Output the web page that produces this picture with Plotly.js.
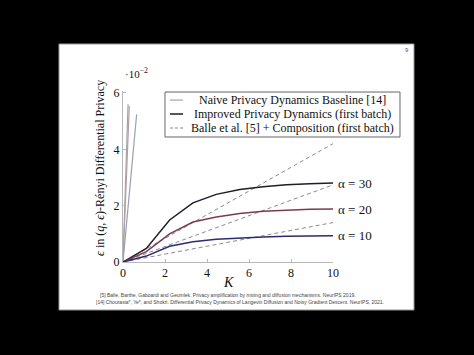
<!DOCTYPE html>
<html>
<head>
<meta charset="utf-8">
<script src="https://cdn.plot.ly/plotly-3.0.1.min.js"></script>
<style>
html,body{margin:0;padding:0;background:#000;}
#chart{width:474px;height:355px;}
</style>
</head>
<body>
<div id="chart"></div>
<script>
// K values (number of iterations)
var K = [0, 1.11, 2.22, 3.33, 4.44, 5.56, 6.67, 7.78, 8.89, 10];
// Improved privacy dynamics (first batch), values in units of 1e-2
var improved30 = [0, 0.48, 1.49, 2.10, 2.40, 2.57, 2.67, 2.74, 2.78, 2.80];
var improved20 = [0, 0.37, 1.00, 1.42, 1.60, 1.72, 1.80, 1.84, 1.87, 1.88];
var improved10 = [0, 0.21, 0.56, 0.72, 0.81, 0.86, 0.89, 0.91, 0.92, 0.93];
// Balle et al. + composition (straight lines), endpoints
var balleK = [0, 10];
var balle30 = [0, 4.20];
var balle20 = [0, 2.74];
var balle10 = [0, 1.40];
// Naive privacy dynamics baseline [14]
var naive30K = [0, 0.24], naive30 = [0, 5.60];
var naive20K = [0, 0.30], naive20 = [0, 5.54];
var naive10K = [0, 0.65], naive10 = [0, 5.24];
var alphaLabels = ['α = 30', 'α = 20', 'α = 10'];
var legendNames = ['Naive Privacy Dynamics Baseline [14]', 'Improved Privacy Dynamics (first batch)', 'Balle et al. [5] + Composition (first batch)'];
var xTicks = [0, 2, 4, 6, 8, 10];
var yTicks = [0, 2, 4, 6];

var serif = 'Liberation Serif, DejaVu Serif, serif';
var sans = 'Liberation Sans, DejaVu Sans, sans-serif';
var c30 = '#1e1e28', c20 = '#7d3a52', c10 = '#2c2c70';
var naiveCol = '#a4a4aa', balleCol = '#8a8a90';
var dash = '4px,3px';

var traces = [
  {x: naive30K, y: naive30, mode: 'lines', line: {color: naiveCol, width: 1.2}},
  {x: naive20K, y: naive20, mode: 'lines', line: {color: '#b39ea8', width: 1.2}},
  {x: naive10K, y: naive10, mode: 'lines', line: {color: '#9e9eb6', width: 1.2}},
  {x: balleK, y: balle30, mode: 'lines', line: {color: balleCol, width: 1, dash: dash}},
  {x: balleK, y: balle20, mode: 'lines', line: {color: balleCol, width: 1, dash: dash}},
  {x: balleK, y: balle10, mode: 'lines', line: {color: balleCol, width: 1, dash: dash}},
  {x: K, y: improved30, mode: 'lines', line: {color: c30, width: 1.5}},
  {x: K, y: improved20, mode: 'lines', line: {color: c20, width: 1.5}},
  {x: K, y: improved10, mode: 'lines', line: {color: c10, width: 1.5}}
];

var ends = [improved30[improved30.length-1], improved20[improved20.length-1], improved10[improved10.length-1]];
var ann = [];
for (var i = 0; i < 3; i++) {
  ann.push({x: 10, y: ends[i], xref: 'x', yref: 'y', text: alphaLabels[i], showarrow: false,
    xanchor: 'left', yanchor: 'middle', xshift: 3, font: {family: serif, size: 13, color: '#111'}});
}
ann.push({xref: 'paper', yref: 'paper', x: -0.1095, y: 0.55, xanchor: 'center', yanchor: 'middle', textangle: -90, showarrow: false,
  text: '<i>ϵ</i> in (<i>q</i>, <i>ϵ</i>)-Rényi Differential Privacy', font: {family: serif, size: 12, color: '#111'}});
ann.push({xref: 'paper', yref: 'paper', x: 0.5, y: -0.1228, xanchor: 'center', yanchor: 'middle', showarrow: false, text: '<i>K</i>',
  font: {family: serif, size: 14, color: '#111'}});
ann.push({xref: 'paper', yref: 'paper', x: 0.0, y: 1.05, xanchor: 'left', yanchor: 'bottom', showarrow: false,
  text: '·10<sup>−2</sup>', font: {family: serif, size: 11, color: '#111'}});
ann.push({xref: 'paper', yref: 'paper', x: 1.352, y: 1.24, xanchor: 'center', yanchor: 'middle', showarrow: false, text: '9',
  font: {family: sans, size: 6, color: '#555'}});
ann.push({xref: 'paper', yref: 'paper', x: -0.119, y: -0.193, xanchor: 'left', yanchor: 'middle', showarrow: false,
  text: '[5] Balle, Barthe, Gaboardi and Geumlek. Privacy amplification by mixing and diffusion mechanisms. NeurIPS 2019.',
  font: {family: sans, size: 5, color: '#444'}});
ann.push({xref: 'paper', yref: 'paper', x: -0.138, y: -0.234, xanchor: 'left', yanchor: 'middle', showarrow: false,
  text: '[14] Chourasia*, Ye*, and Shokri. Differential Privacy Dynamics of Langevin Diffusion and Noisy Gradient Descent. NeurIPS, 2021.',
  font: {family: sans, size: 5, color: '#444'}});

// manual legend (box, samples, centred labels) in paper coordinates
var legRows = [0.947, 0.8655, 0.7836];
var legStyles = [{color: naiveCol, width: 1.2}, {color: c30, width: 1.5}, {color: balleCol, width: 1, dash: '3px,2px'}];
var shapes = [{type: 'rect', xref: 'paper', yref: 'paper', x0: -0.3048, x1: 1.3857, y0: -0.2807, y1: 1.2749,
    fillcolor: '#fff', line: {color: '#999', width: 1}, layer: 'below'},
  {type: 'rect', xref: 'paper', yref: 'paper', x0: 0.2, x1: 1.319, y0: 0.731, y1: 0.994,
    fillcolor: '#fff', line: {color: '#666', width: 1}, layer: 'above'}];
for (var j = 0; j < 3; j++) {
  shapes.push({type: 'line', xref: 'paper', yref: 'paper', x0: 0.2238, x1: 0.2857, y0: legRows[j], y1: legRows[j],
    line: legStyles[j], layer: 'above'});
  ann.push({xref: 'paper', yref: 'paper', x: 0.805, y: legRows[j], xanchor: 'center', yanchor: 'middle', showarrow: false,
    text: legendNames[j], font: {family: serif, size: 12, color: '#111'}});
}

var layout = {
  width: 474, height: 355,
  margin: {l: 123, r: 141, t: 91, b: 93},
  paper_bgcolor: '#000', plot_bgcolor: 'rgba(0,0,0,0)',
  showlegend: false,
  xaxis: {range: [0, 10], tickvals: xTicks, showgrid: false, zeroline: false, showline: true,
    linecolor: '#b8b8b8', linewidth: 1, ticks: 'inside', ticklen: 3, tickcolor: '#b8b8b8',
    tickfont: {family: serif, size: 12, color: '#111'}, fixedrange: true},
  yaxis: {range: [0, 6.07], tickvals: yTicks, showgrid: false, zeroline: false, showline: true,
    linecolor: '#b8b8b8', linewidth: 1, ticks: 'inside', ticklen: 3, tickcolor: '#b8b8b8',
    tickfont: {family: serif, size: 12, color: '#111'}, fixedrange: true},
  shapes: shapes,
  annotations: ann
};
Plotly.newPlot('chart', traces, layout, {displayModeBar: false, staticPlot: true});
</script>
</body>
</html>
